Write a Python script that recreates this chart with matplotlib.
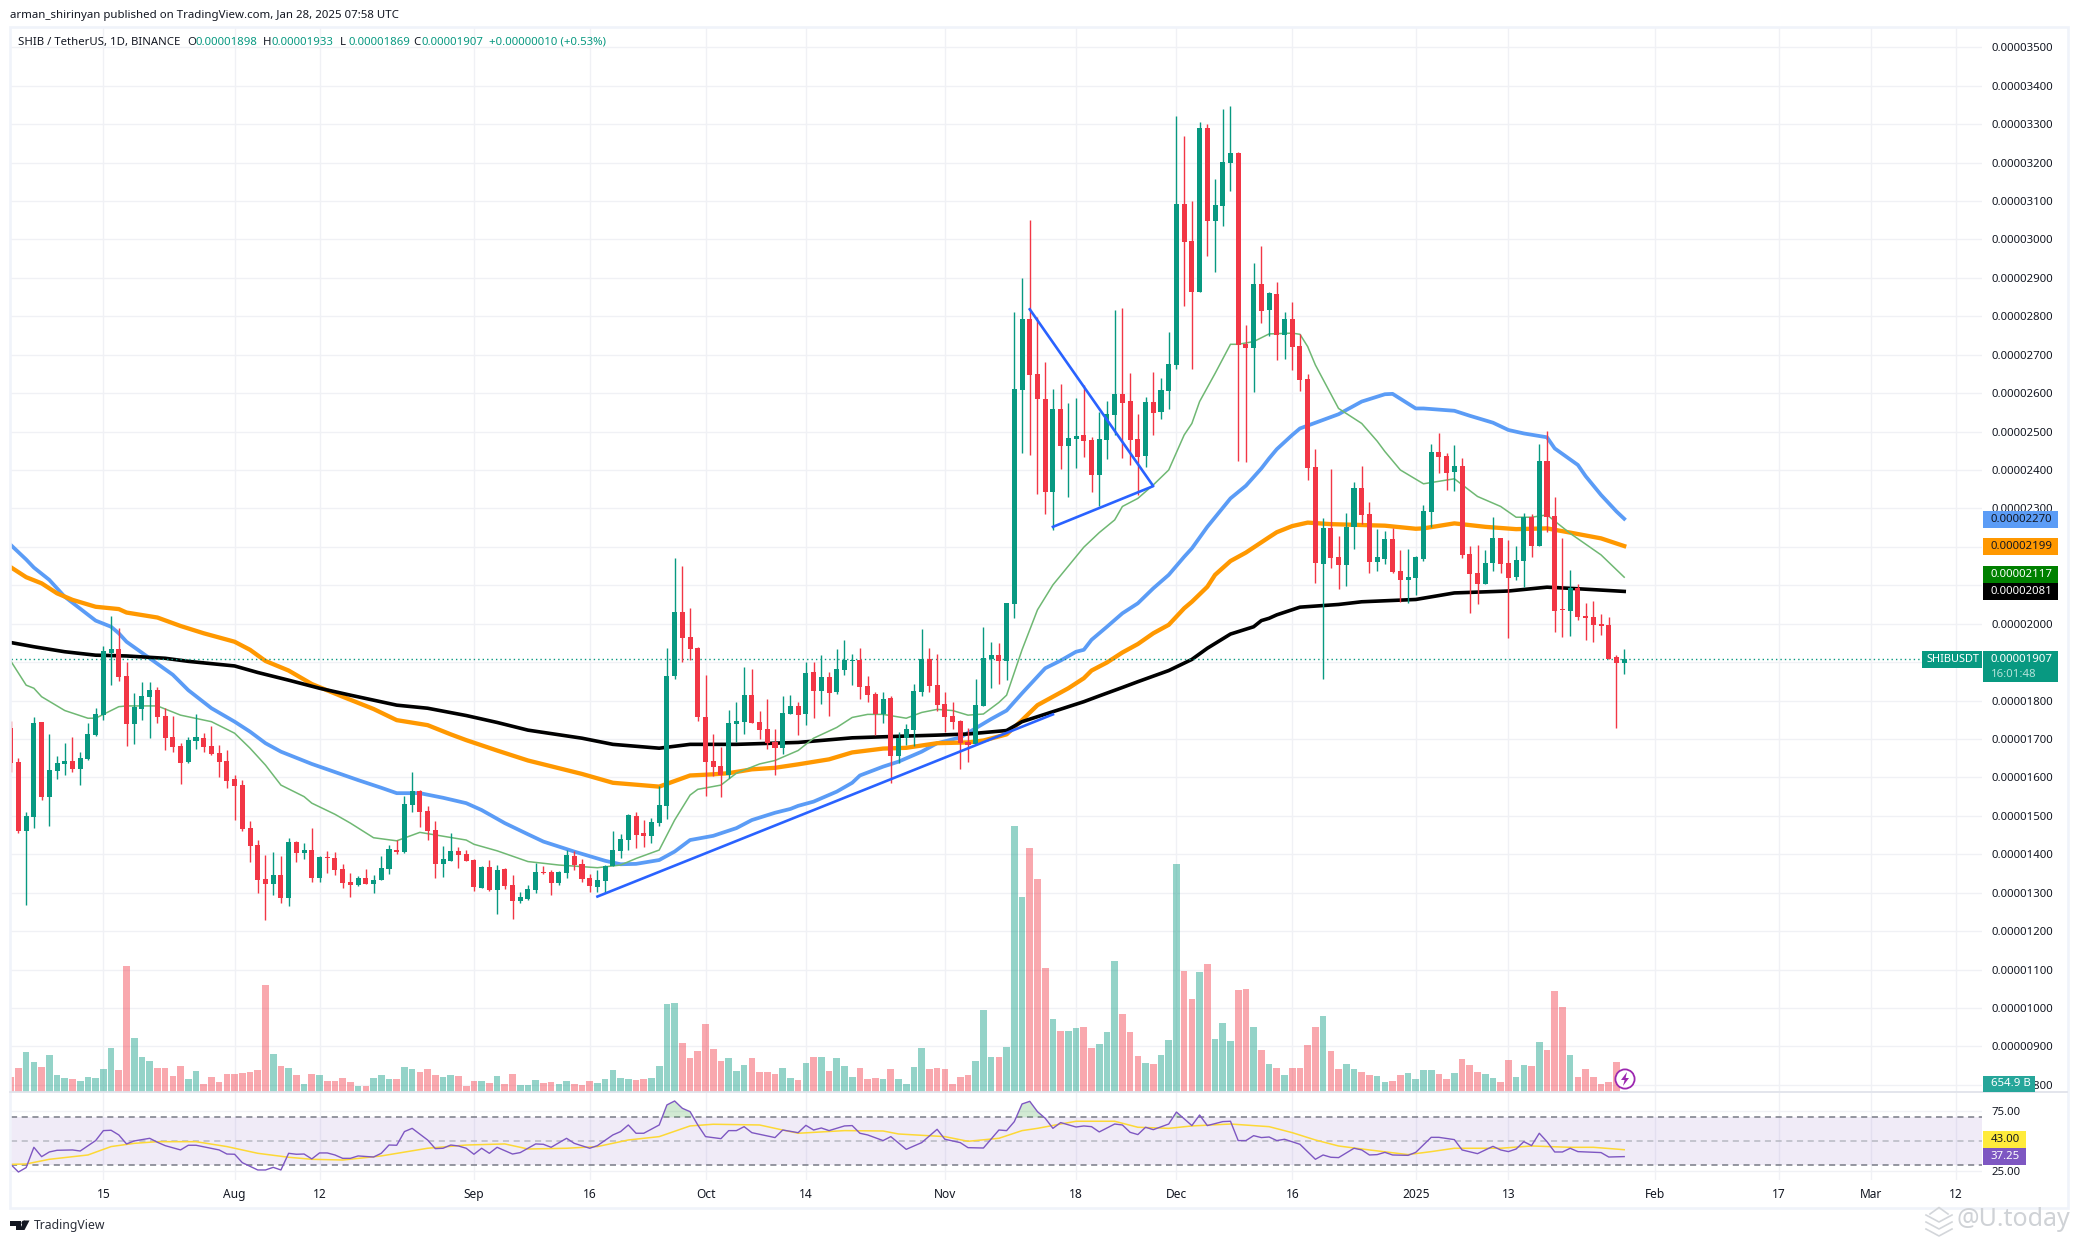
import matplotlib
matplotlib.use('Agg')
import matplotlib.pyplot as plt
import numpy as np
from matplotlib.patches import Rectangle, Circle, Polygon
from datetime import date

# ---- data (prices in 1e-8 USDT, volume in trillions of SHIB) ----
START = date(2024, 7, 3)
O = [1729,1640,1461,1498,1744,1550,1617,1635,1643,1622,1649,1710,1763,1924,1934,1864,1740,1778,1809,1827,1760,1705,1682,1640,1696,1703,1682,1664,1643,1596,1580,1468,1424,1336,1323,1346,1286,1432,1403,1411,1338,1393,1390,1362,1328,1320,1338,1323,1333,1362,1411,1406,1528,1565,1513,1463,1375,1383,1409,1401,1385,1312,1367,1307,1362,1320,1278,1284,1307,1354,1354,1325,1351,1396,1375,1338,1315,1330,1370,1409,1437,1500,1455,1448,1481,1526,1864,2030,1965,1937,1757,1643,1630,1606,1740,1744,1814,1744,1726,1692,1677,1765,1786,1765,1874,1825,1861,1822,1880,1903,1906,1838,1817,1765,1807,1656,1703,1723,1822,1908,1840,1791,1760,1747,1692,1687,1786,1908,1919,1903,2051,2608,2793,2650,2585,2343,2559,2462,2481,2491,2478,2387,2478,2543,2598,2579,2481,2436,2577,2551,2606,2673,3092,2996,2863,3290,3048,3087,3199,3225,2728,2717,2884,2816,2858,2751,2793,2723,2637,2408,2155,2249,2174,2153,2252,2353,2285,2161,2168,2220,2137,2114,2119,2168,2291,2447,2436,2395,2410,2181,2132,2103,2158,2223,2158,2122,2163,2278,2202,2423,2280,2038,2033,2093,2020,2017,1999,1997,1913,1898]
H = [1747,1651,1510,1758,1744,1713,1656,1690,1705,1666,1742,1780,1942,2020,1989,1900,1820,1848,1848,1834,1780,1760,1690,1705,1765,1716,1734,1684,1671,1606,1592,1487,1437,1399,1406,1396,1442,1435,1429,1468,1396,1408,1406,1375,1351,1343,1362,1346,1396,1424,1437,1552,1614,1567,1526,1487,1422,1455,1419,1411,1388,1370,1385,1372,1364,1346,1302,1320,1377,1370,1359,1356,1411,1409,1388,1349,1359,1372,1461,1453,1505,1510,1489,1494,1578,1937,2171,2150,2041,1939,1867,1713,1680,1775,1796,1887,1882,1773,1804,1726,1812,1814,1796,1900,1900,1919,1874,1934,1958,1921,1937,1864,1822,1822,1812,1718,1739,1843,1986,1937,1921,1822,1796,1749,1729,1856,1991,1952,1950,2054,2811,2900,3050,2798,2681,2611,2624,2574,2587,2621,2486,2551,2579,2816,2821,2652,2546,2590,2655,2639,2759,3321,3269,3100,3305,3300,3157,3339,3347,3227,2777,2939,2983,2863,2889,2811,2837,2754,2650,2455,2275,2403,2228,2288,2369,2410,2317,2246,2241,2249,2192,2194,2176,2309,2468,2496,2444,2465,2431,2202,2205,2192,2278,2223,2218,2202,2288,2285,2468,2501,2330,2223,2140,2103,2054,2059,2025,2017,1919,1933]
L = [1615,1456,1268,1469,1542,1474,1595,1605,1615,1579,1646,1709,1749,1841,1852,1683,1688,1750,1703,1742,1672,1667,1584,1638,1675,1667,1658,1601,1573,1490,1461,1380,1300,1229,1294,1274,1266,1379,1388,1328,1328,1351,1346,1312,1289,1317,1323,1299,1333,1349,1401,1403,1510,1470,1437,1338,1341,1383,1364,1383,1304,1312,1304,1245,1310,1232,1273,1281,1300,1349,1294,1320,1338,1359,1328,1302,1302,1299,1370,1391,1411,1416,1419,1429,1474,1492,1856,1899,1906,1748,1552,1604,1549,1599,1692,1713,1742,1700,1674,1606,1661,1765,1710,1736,1755,1791,1760,1817,1867,1840,1804,1796,1710,1742,1585,1638,1684,1682,1812,1822,1773,1718,1726,1622,1640,1684,1786,1833,1843,1853,2015,2444,2439,2337,2285,2244,2403,2330,2405,2434,2343,2306,2429,2491,2431,2413,2335,2408,2491,2533,2559,2663,2827,2663,2863,2957,2915,3035,3126,2423,2421,2603,2782,2749,2686,2689,2660,2606,2374,2106,1856,2145,2090,2098,2194,2259,2132,2137,2155,2132,2056,2054,2075,2163,2252,2392,2348,2345,2171,2028,2051,2103,2137,2132,1963,2114,2095,2174,2202,2239,1978,1965,1968,2010,1958,1952,1971,1908,1729,1869]
C = [1638,1461,1500,1742,1550,1619,1637,1643,1622,1650,1713,1765,1929,1934,1862,1740,1782,1812,1827,1758,1703,1679,1638,1697,1705,1679,1661,1640,1591,1578,1466,1422,1333,1323,1346,1286,1432,1403,1411,1338,1393,1389,1359,1325,1320,1338,1323,1333,1364,1414,1406,1531,1565,1510,1461,1375,1388,1409,1398,1383,1315,1367,1307,1359,1317,1278,1289,1310,1354,1352,1325,1354,1398,1372,1336,1317,1333,1370,1411,1440,1502,1450,1448,1484,1528,1864,2030,1963,1934,1757,1640,1627,1606,1742,1747,1814,1742,1723,1690,1677,1768,1786,1762,1872,1825,1861,1820,1882,1906,1906,1835,1814,1765,1804,1656,1703,1726,1825,1908,1838,1788,1757,1744,1690,1684,1788,1911,1919,1903,2054,2611,2793,2647,2585,2343,2559,2462,2483,2488,2475,2387,2481,2546,2598,2574,2478,2434,2577,2548,2608,2676,3092,2993,2863,3290,3048,3090,3201,3225,2725,2717,2884,2814,2861,2751,2793,2720,2634,2405,2158,2249,2171,2153,2252,2353,2283,2161,2174,2220,2135,2114,2122,2174,2293,2447,2434,2392,2410,2179,2129,2103,2158,2223,2155,2119,2166,2278,2202,2423,2278,2033,2036,2093,2017,2015,1997,1994,1908,1898,1907]
V = [7.5,12.0,19.8,14.9,12.5,18.4,8.5,7.1,6.6,5.6,7.5,7.1,11.5,21.8,11.0,62.2,26.7,17.4,15.4,12.0,12.0,8.0,13.0,6.6,10.5,4.1,7.5,5.1,9.0,9.0,9.5,10.0,11.0,52.8,18.9,13.0,12.0,8.5,4.1,9.0,8.5,5.6,5.6,7.1,5.1,2.8,3.1,7.1,8.5,6.6,6.6,12.5,11.5,9.8,11.5,8.5,7.5,8.5,8.0,2.8,5.6,5.6,4.6,8.0,4.1,9.0,3.6,3.6,6.1,4.3,5.1,4.1,5.6,4.1,3.6,5.6,4.6,6.6,11.0,7.1,6.6,6.1,6.4,7.1,13.0,43.5,44.0,24.3,16.9,20.3,33.6,21.3,15.4,16.9,10.5,13.4,16.9,10.0,10.0,9.0,12.0,7.1,6.1,14.4,17.4,17.4,10.5,16.9,13.0,7.5,12.0,6.6,7.1,6.6,11.5,6.6,4.1,12.5,21.8,11.5,12.0,11.5,4.1,7.5,8.5,15.4,40.5,17.4,17.4,22.3,131.0,96.1,120.2,105.0,61.2,36.1,30.2,30.2,31.7,32.1,21.8,23.8,29.7,64.6,38.5,29.7,17.9,14.4,13.9,18.4,25.7,112.3,59.7,45.9,59.2,63.1,26.2,34.1,25.3,50.3,50.8,32.1,20.8,13.9,12.0,8.5,12.0,12.0,23.3,32.1,37.6,20.3,11.5,13.9,11.5,10.0,8.5,8.0,5.1,5.6,8.5,9.5,6.6,11.0,11.0,9.0,6.6,9.5,16.4,13.4,10.0,9.0,7.1,5.1,15.9,7.5,13.4,13.0,24.8,20.8,49.9,42.0,18.4,7.5,11.5,7.5,4.1,5.1,14.9,0.7]

BLx = [0,2,3,5,7,11,13,14,15,18,21,23,26,29,31,33,35,39,41,45,48,50,53,56,59,61,64,67,69,73,77,79,81,84,86,88,91,94,96,99,101,102,104,107,109,110,113,115,118,120,123,125,127,129,131,134,136,138,139,140,142,144,146,148,150,152,153,155,158,160,162,163,164,166,167,172,175,178,179,182,183,187,189,192,194,196,199,200,203,204,206,208,209]
BLy = [2205,2167,2146,2114,2070,2008,1992,1975,1953,1910,1867,1827,1780,1745,1719,1689,1667,1635,1621,1593,1573,1559,1559,1547,1533,1515,1481,1452,1433,1407,1383,1374,1375,1385,1407,1437,1448,1468,1489,1508,1518,1526,1537,1563,1586,1605,1628,1641,1667,1689,1704,1728,1752,1774,1819,1884,1904,1927,1932,1958,1992,2027,2053,2092,2127,2174,2196,2252,2326,2359,2404,2430,2454,2491,2508,2545,2578,2597,2598,2560,2560,2554,2541,2523,2504,2495,2485,2456,2413,2384,2335,2292,2273]
ORx = [0,2,4,6,8,11,14,15,19,22,25,29,31,33,36,39,43,47,50,54,57,59,63,67,71,74,78,81,84,88,91,93,96,99,102,106,109,113,116,120,124,126,129,131,133,137,139,140,142,144,146,148,150,152,153,155,156,158,160,163,164,166,168,171,178,182,183,187,191,195,199,202,206,209]
ORy = [2147,2121,2105,2079,2062,2044,2038,2029,2016,1994,1975,1953,1932,1903,1878,1843,1810,1778,1749,1736,1712,1697,1670,1644,1624,1609,1586,1581,1576,1605,1608,1611,1621,1625,1634,1647,1665,1675,1677,1689,1691,1696,1712,1749,1788,1832,1858,1878,1899,1925,1947,1975,1997,2040,2057,2096,2127,2163,2185,2225,2238,2254,2263,2259,2255,2247,2248,2261,2252,2246,2248,2237,2222,2202]
BKx = [0,3,7,11,15,20,23,29,32,36,40,44,50,54,59,63,67,74,78,84,88,94,102,109,115,120,124,129,131,135,139,141,144,146,150,153,155,158,161,162,163,164,167,172,175,182,187,194,199,202,209]
BKy = [1951,1940,1927,1918,1916,1910,1902,1890,1873,1853,1832,1814,1788,1780,1761,1743,1723,1702,1686,1676,1686,1686,1691,1703,1707,1710,1713,1722,1745,1771,1797,1812,1834,1849,1878,1907,1936,1973,1992,2008,2014,2023,2043,2050,2057,2063,2080,2085,2095,2092,2084]
GRx = [0,2,3,4,7,10,11,14,15,19,22,26,29,31,33,35,38,39,42,44,47,50,53,59,60,63,67,71,76,79,81,84,86,88,89,92,94,97,99,102,104,107,109,111,113,116,118,120,122,124,126,128,129,131,133,135,137,139,141,143,144,146,148,150,152,153,154,156,158,159,161,163,166,167,168,169,172,175,177,178,180,183,187,190,193,195,197,199,202,206,209]
GRy = [1903,1840,1832,1810,1774,1754,1754,1784,1786,1786,1762,1745,1715,1676,1632,1580,1550,1533,1504,1481,1443,1435,1457,1437,1426,1409,1381,1372,1365,1372,1389,1411,1489,1554,1569,1580,1611,1635,1644,1670,1702,1730,1756,1764,1764,1754,1769,1777,1774,1762,1765,1795,1814,1932,2036,2101,2150,2199,2237,2270,2305,2326,2361,2400,2491,2521,2578,2651,2727,2727,2734,2754,2756,2753,2721,2673,2560,2521,2475,2448,2400,2364,2377,2331,2305,2277,2277,2283,2235,2179,2121]
RPx = [0,1,2,3,4,5,6,8,9,11,12,13,14,15,16,18,19,20,22,23,24,27,28,29,30,32,33,34,35,36,37,38,39,40,41,42,43,44,45,47,48,49,50,51,52,54,55,56,57,58,59,60,61,62,63,65,66,68,69,70,72,73,75,76,78,79,80,81,82,84,85,86,87,88,89,90,92,93,94,95,96,99,100,102,103,104,105,106,108,109,110,111,113,114,116,118,120,121,123,124,126,128,129,130,131,132,133,134,135,136,138,139,140,141,143,144,145,146,147,148,150,151,153,154,155,157,158,159,160,161,162,163,164,165,167,169,170,171,172,174,175,176,177,178,179,181,182,184,185,187,188,190,192,193,194,195,196,197,198,199,200,201,202,203,206,207,209]
RPy = [30.8,24.4,28.1,45.0,37.2,41.1,42.5,42.8,41.9,50.6,58.9,59.2,55.3,47.8,50.3,52.5,49.2,46.4,42.8,46.7,46.7,42.8,39.4,39.2,32.2,26.1,26.1,28.3,26.1,40.0,39.2,39.4,35.3,40.3,40.3,38.6,35.8,35.8,37.8,36.9,40.0,46.9,46.7,58.1,60.8,51.1,43.9,44.2,46.9,46.1,44.2,39.2,44.2,40.0,45.0,39.4,40.6,47.8,47.5,45.0,52.5,48.3,44.2,46.4,55.3,58.1,63.6,56.7,56.7,63.6,80.3,83.6,77.5,74.7,63.6,53.9,52.2,58.9,58.9,62.2,57.2,53.1,59.4,57.2,63.3,59.4,61.1,58.9,62.8,63.1,56.7,55.3,50.6,53.9,43.3,48.9,60.0,51.7,48.9,44.7,44.4,59.4,58.9,66.4,81.1,83.3,74.7,69.2,60.8,65.6,61.9,62.8,62.2,57.8,64.4,63.6,57.5,55.6,61.7,59.7,64.4,74.4,63.1,71.9,63.1,66.4,66.7,50.6,50.6,54.7,53.1,53.6,50.6,51.7,47.5,35.0,38.6,36.7,36.4,44.2,42.8,38.6,38.9,40.8,38.6,38.3,40.8,53.3,53.3,51.4,42.8,39.7,45.8,42.8,41.4,43.6,49.7,46.4,56.7,49.7,41.1,41.1,44.2,41.4,40.6,36.9,37.25]
RYx = [0,2,5,10,13,16,19,24,28,32,36,39,43,48,54,59,64,67,72,76,80,84,88,91,97,100,102,108,113,115,121,124,128,131,133,136,138,143,146,150,153,158,163,166,169,172,176,181,184,187,193,197,202,205,209]
RYy = [30.8,31.1,35.0,38.6,45.6,48.3,49.7,49.7,45.6,40.0,36.7,35.0,34.4,37.8,44.2,46.9,47.8,43.6,44.2,45.6,51.1,53.9,62.8,64.2,63.6,59.4,56.7,58.9,58.6,56.1,53.9,50.0,52.5,58.9,60.8,64.4,66.7,66.7,61.7,60.8,62.8,64.4,62.2,57.2,51.1,46.1,42.8,38.9,41.4,44.2,44.2,46.1,45.0,45.0,43.0]

TREND_LOW_X = [76, 135]; TREND_LOW_Y = [1290, 1764]
TRI_X = [132, 148, 135]; TRI_Y = [2818, 2358, 2252]

TICK_DATES = [(date(2024,7,15),'15'),(date(2024,8,1),'Aug'),(date(2024,8,12),'12'),(date(2024,9,1),'Sep'),
              (date(2024,9,16),'16'),(date(2024,10,1),'Oct'),(date(2024,10,14),'14'),(date(2024,11,1),'Nov'),
              (date(2024,11,18),'18'),(date(2024,12,1),'Dec'),(date(2024,12,16),'16'),(date(2025,1,1),'2025'),
              (date(2025,1,13),'13'),(date(2025,2,1),'Feb'),(date(2025,2,17),'17'),(date(2025,3,1),'Mar'),(date(2025,3,12),'12')]

# ---- style ----
plt.rcParams['font.family'] = ['Noto Sans', 'DejaVu Sans']
GREEN, RED = '#089981', '#f23645'
GRID = '#f0f1f5'
TXT = '#131722'
W, Hpx = 2078, 1243
fig = plt.figure(figsize=(W/100, Hpx/100), dpi=100, facecolor='white')
def axpx(x0, y0, x1, y1, **k):
    return fig.add_axes([x0/W, 1-y1/Hpx, (x1-x0)/W, (y1-y0)/Hpx], **k)

X0, X1 = 11, 1982
xlim = ((X0-10.72)/7.72, (X1-10.72)/7.72)
ax = axpx(X0, 28, X1, 1092)
axv = axpx(X0, 28, X1, 1092)
axr = axpx(X0, 1093, X1, 1180)
ov = fig.add_axes([0, 0, 1, 1], zorder=20)
ov.set_xlim(0, W); ov.set_ylim(Hpx, 0); ov.axis('off'); ov.patch.set_alpha(0)

idx = np.arange(len(O))
O_, H_, L_, C_ = map(np.array, (O, H, L, C))
up = C_ >= O_
cols = np.where(up, GREEN, RED)
ticks = [(d-START).days for d, _ in TICK_DATES]
labels = [l for _, l in TICK_DATES]

# price pane
ax.set_zorder(1); axv.set_zorder(2); axr.set_zorder(1)
ax.set_xlim(*xlim); ax.set_ylim(781.4, 3550)
ax.set_yticks(np.arange(800, 3501, 100))
ax.set_yticklabels([f'{v*1e-8:.8f}' for v in np.arange(800, 3501, 100)], fontsize=8.2, color=TXT)
ax.yaxis.tick_right()
ax.tick_params(axis='y', length=0, pad=6.5)
ax.set_xticks(ticks); ax.tick_params(axis='x', length=0, labelbottom=False)
ax.grid(True, color=GRID, lw=1.0); ax.set_axisbelow(True)
for s in ax.spines.values(): s.set_visible(False)

ax.plot(BLx, BLy, color='#5b9cf6', lw=2.7, zorder=2, solid_joinstyle='round')
ax.plot(ORx, ORy, color='#ff9800', lw=3.1, zorder=2, solid_joinstyle='round')
ax.plot(BKx, BKy, color='#000000', lw=2.6, zorder=2, solid_joinstyle='round')
ax.plot(GRx, GRy, color='#6fb873', lw=1.1, zorder=2, solid_joinstyle='round')
ax.vlines(idx, L_, H_, colors=cols, lw=1.0, zorder=3)
ax.bar(idx, np.maximum(np.abs(C_-O_), 2), bottom=np.minimum(O_, C_), width=0.65, color=cols, lw=0, zorder=3.1)
ax.plot(TREND_LOW_X, TREND_LOW_Y, color='#2962ff', lw=1.9, zorder=4)
ax.plot(TRI_X, TRI_Y, color='#2962ff', lw=1.9, zorder=4)
ax.plot(xlim, [C[-1], C[-1]], color=GREEN, lw=1, ls=(0, (1, 2.2)), zorder=2.5)

# volume
axv.set_xlim(*xlim); axv.set_ylim(0, 523.5); axv.axis('off'); axv.patch.set_alpha(0)
axv.bar(idx, V, width=0.86, color=cols, alpha=0.43, lw=0)

# RSI
axr.set_xlim(*xlim); axr.set_ylim(17.75, 90.25)
axr.yaxis.tick_right()
axr.set_yticks([25, 75]); axr.set_yticklabels(['25.00', '75.00'], fontsize=8.2, color=TXT)
axr.tick_params(axis='y', length=0, pad=6.5)
axr.set_xticks(ticks); axr.set_xticklabels(labels, fontsize=8.6, color=TXT)
axr.get_xticklabels()[labels.index('2025')].set_fontweight('bold')
axr.tick_params(axis='x', length=0, pad=6)
axr.grid(True, color=GRID, lw=1.0); axr.set_axisbelow(True)
for s in axr.spines.values(): s.set_visible(False)
axr.axhspan(30, 70, color='#9575cd', alpha=0.14, lw=0, zorder=1)
axr.axhline(70, color='#787b86', lw=1.1, ls=(0, (4, 3)), zorder=1.5)
axr.axhline(50, color='#b7b9c2', lw=1.1, ls=(0, (4, 3)), zorder=1.5)
axr.axhline(30, color='#787b86', lw=1.1, ls=(0, (4, 3)), zorder=1.5)
rx, ry = np.array(RPx), np.array(RPy)
axr.fill_between(rx, 70, ry, where=ry > 70, interpolate=True, color='#4caf50', alpha=0.25, lw=0, zorder=1.8)
axr.plot(RYx, RYy, color='#fdd835', lw=1.1, zorder=2)
axr.plot(RPx, RPy, color='#7e57c2', lw=1.0, zorder=2.2)

# frame and separator
ov.add_patch(Rectangle((9.5, 26.5), 2058, 1181.2, fill=False, ec='#f0f3fa', lw=1.9))
ov.plot([10, 2067], [1092.4, 1092.4], color='#e0e3eb', lw=1.3)

# header / legend
ov.text(10, 15, 'arman_shirinyan published on TradingView.com, Jan 28, 2025 07:58 UTC', fontsize=8.25, color=TXT, va='center')
ov.text(18, 42, 'SHIB / TetherUS, 1D, BINANCE', fontsize=8.2, color=TXT, va='center')
for x, lab, val in ((187, 'O', '0.00001898'), (263, 'H', '0.00001933'), (340, 'L', '0.00001869'), (413.5, 'C', '0.00001907')):
    ov.text(x, 42, lab, fontsize=8.2, color=TXT, va='center')
    ov.text(x+8.5, 42, val, fontsize=8.2, color=GREEN, va='center')
ov.text(489, 42, '+0.00000010 (+0.53%)', fontsize=8.2, color=GREEN, va='center')

# price-scale tags
def tag(x0, x1, y0, y1, fc, text, tc, sub=None, pad=7.7, fs=8.2):
    ov.add_patch(Rectangle((x0, y0), x1-x0, y1-y0, fc=fc, ec='none', zorder=5))
    ty = (y0+y1)/2 if sub is None else y0+8.5
    ov.text(x0+pad, ty, text, fontsize=fs, color=tc, va='center', zorder=6)
    if sub:
        ov.text(x0+pad, y0+23, sub, fontsize=fs, color='#b5e3da', va='center', zorder=6)

tag(1983, 2057.5, 511, 528, '#5b9cf6', '0.00002270', TXT)
tag(1983, 2057.5, 538, 555, '#ff9800', '0.00002199', TXT)
tag(1983, 2057.5, 566, 583, '#008000', '0.00002117', 'white')
tag(1983, 2057.5, 583, 600, '#000000', '0.00002081', 'white')
tag(1983, 2057.5, 651, 682, GREEN, '0.00001907', 'white', '16:01:48')
tag(1922, 1982, 651, 667.5, GREEN, 'SHIBUSDT', 'white', pad=4.5, fs=7.9)
tag(1983, 2035, 1076, 1092, '#26a69a', '654.9 B', 'white')
tag(1983, 2026, 1131, 1148, '#ffeb3b', '43.00', TXT)
tag(1983, 2026, 1148, 1165, '#7e57c2', '37.25', 'white')

# lightning marker
ov.add_patch(Circle((1625, 1079), 9.6, fc='white', ec='#9c27b0', lw=1.3, zorder=7))
ov.add_patch(Polygon([(1627, 1072), (1621, 1080), (1624.6, 1080), (1623, 1086), (1629, 1078), (1625.6, 1078)],
                     fc='#9c27b0', ec='none', zorder=8))

# TradingView mark
ov.add_patch(Polygon([(10, 1220.5), (21, 1220.5), (21, 1230), (15.5, 1230), (15.5, 1225.5), (10, 1225.5)], fc=TXT, ec='none'))
ov.add_patch(Circle((23.8, 1223), 2.4, fc=TXT, ec='none'))
ov.add_patch(Polygon([(29.5, 1220.5), (24.5, 1230), (19.5, 1230), (24, 1220.5)], fc=TXT, ec='none'))
ov.text(34, 1225.5, 'TradingView', fontsize=8.8, color='#2a2e39', va='center')

# watermark
ov.text(1957, 1220, '@U.today', fontsize=18, color='#cfd2d6', va='center', zorder=9)
for dy in (0, 7, 14):
    ov.plot([1926, 1939, 1952], [1215+dy, 1222+dy, 1215+dy], color='#d3d6da', lw=1.2, zorder=9)
ov.plot([1930, 1939, 1948], [1214, 1207.5, 1214], color='#d3d6da', lw=1.2, zorder=9)

fig.savefig('out.png', dpi=100)
